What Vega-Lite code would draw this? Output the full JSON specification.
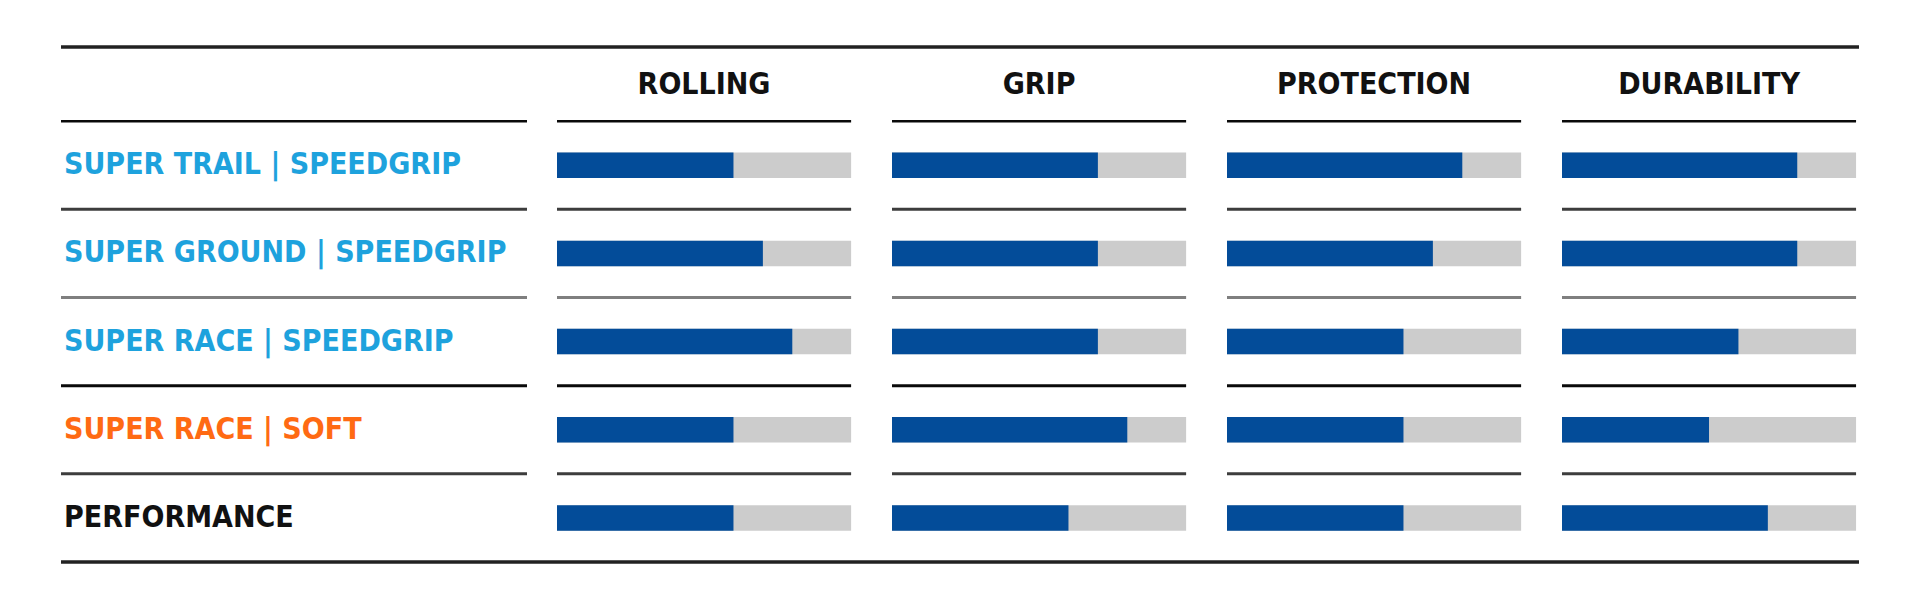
{
  "$schema": "https://vega.github.io/schema/vega-lite/v6.json",
  "padding": {"left": 59, "top": 33, "right": 0, "bottom": 0},
  "background": "white",
  "spacing": 0,
  "bounds": "flush",
  "config": {"view": {"stroke": null}, "concat": {"spacing": 0}},
  "datasets": {
    "products": [
      {"product": "SUPER TRAIL | SPEEDGRIP"},
      {"product": "SUPER GROUND | SPEEDGRIP"},
      {"product": "SUPER RACE | SPEEDGRIP"},
      {"product": "SUPER RACE | SOFT"},
      {"product": "PERFORMANCE"}
    ],
    "scores": [
      {"product": "SUPER TRAIL | SPEEDGRIP", "metric": "ROLLING", "value": 6},
      {"product": "SUPER TRAIL | SPEEDGRIP", "metric": "GRIP", "value": 7},
      {"product": "SUPER TRAIL | SPEEDGRIP", "metric": "PROTECTION", "value": 8},
      {"product": "SUPER TRAIL | SPEEDGRIP", "metric": "DURABILITY", "value": 8},
      {"product": "SUPER GROUND | SPEEDGRIP", "metric": "ROLLING", "value": 7},
      {"product": "SUPER GROUND | SPEEDGRIP", "metric": "GRIP", "value": 7},
      {"product": "SUPER GROUND | SPEEDGRIP", "metric": "PROTECTION", "value": 7},
      {"product": "SUPER GROUND | SPEEDGRIP", "metric": "DURABILITY", "value": 8},
      {"product": "SUPER RACE | SPEEDGRIP", "metric": "ROLLING", "value": 8},
      {"product": "SUPER RACE | SPEEDGRIP", "metric": "GRIP", "value": 7},
      {"product": "SUPER RACE | SPEEDGRIP", "metric": "PROTECTION", "value": 6},
      {"product": "SUPER RACE | SPEEDGRIP", "metric": "DURABILITY", "value": 6},
      {"product": "SUPER RACE | SOFT", "metric": "ROLLING", "value": 6},
      {"product": "SUPER RACE | SOFT", "metric": "GRIP", "value": 8},
      {"product": "SUPER RACE | SOFT", "metric": "PROTECTION", "value": 6},
      {"product": "SUPER RACE | SOFT", "metric": "DURABILITY", "value": 5},
      {"product": "PERFORMANCE", "metric": "ROLLING", "value": 6},
      {"product": "PERFORMANCE", "metric": "GRIP", "value": 6},
      {"product": "PERFORMANCE", "metric": "PROTECTION", "value": 6},
      {"product": "PERFORMANCE", "metric": "DURABILITY", "value": 7}
    ],
    "one": [{"k": 1}]
  },
  "hconcat": [
    {
      "width": 496,
      "height": 529,
      "data": {"name": "products"},
      "layer": [
        {
          "mark": {"type": "text", "align": "left", "baseline": "middle", "dx": 3, "font": "DejaVu Sans Condensed, sans-serif", "fontWeight": "bold", "fontSize": 30},
          "encoding": {
            "y": {"field": "product", "type": "nominal", "axis": null, "scale": {"domain": ["HEADER", "SUPER TRAIL | SPEEDGRIP", "SUPER GROUND | SPEEDGRIP", "SUPER RACE | SPEEDGRIP", "SUPER RACE | SOFT", "PERFORMANCE"], "paddingInner": 0, "paddingOuter": 0}},
            "x": {"datum": 0, "type": "quantitative", "axis": null, "scale": {"domain": [0, 496], "nice": false, "zero": true}},
            "text": {"field": "product"},
            "fill": {"field": "product", "type": "nominal", "legend": null, "scale": {"domain": ["SUPER TRAIL | SPEEDGRIP", "SUPER GROUND | SPEEDGRIP", "SUPER RACE | SPEEDGRIP", "SUPER RACE | SOFT", "PERFORMANCE"], "range": ["#1ea2dd", "#1ea2dd", "#1ea2dd", "#ff6a13", "#111111"]}}
          }
        },
        {
          "transform": [{"filter": "datum.product !== 'PERFORMANCE'"}],
          "mark": {"type": "rule", "strokeWidth": 3},
          "encoding": {
            "y": {"field": "product", "type": "nominal", "bandPosition": 1},
            "x": {"datum": 0, "type": "quantitative"},
            "x2": {"datum": 466},
            "stroke": {"field": "product", "type": "nominal", "legend": null, "scale": {"domain": ["SUPER TRAIL | SPEEDGRIP", "SUPER GROUND | SPEEDGRIP", "SUPER RACE | SPEEDGRIP", "SUPER RACE | SOFT"], "range": ["#3d3d3d", "#7f7f7f", "#0a0a0a", "#3d3d3d"]}}
          }
        },
        {
          "data": {"name": "one"},
          "mark": {"type": "rule", "strokeWidth": 2.5, "color": "#0a0a0a"},
          "encoding": {
            "y": {"datum": "HEADER", "bandPosition": 1},
            "x": {"datum": 0, "type": "quantitative"},
            "x2": {"datum": 466}
          }
        },
        {
          "data": {"name": "one"},
          "mark": {"type": "rule", "strokeWidth": 3.5, "color": "#222222"},
          "encoding": {"y": {"datum": "HEADER", "bandPosition": 0.16}}
        },
        {
          "data": {"name": "one"},
          "mark": {"type": "rule", "strokeWidth": 3.5, "color": "#222222"},
          "encoding": {"y": {"datum": "PERFORMANCE", "bandPosition": 1}}
        }
      ]
    },
    {
      "width": 335,
      "height": 529,
      "data": {"name": "scores"},
      "transform": [{"filter": "datum.metric === 'ROLLING'"}],
      "layer": [
        {
          "mark": {"type": "bar", "color": "#cccccc", "height": {"band": 0.29}},
          "encoding": {
            "y": {"field": "product", "type": "nominal", "axis": null, "scale": {"domain": ["HEADER", "SUPER TRAIL | SPEEDGRIP", "SUPER GROUND | SPEEDGRIP", "SUPER RACE | SPEEDGRIP", "SUPER RACE | SOFT", "PERFORMANCE"], "paddingInner": 0, "paddingOuter": 0}},
            "x": {"datum": 10, "type": "quantitative", "axis": null, "scale": {"domain": [0, 11.39], "nice": false, "zero": true}}
          }
        },
        {
          "mark": {"type": "bar", "color": "#034c99", "height": {"band": 0.29}},
          "encoding": {
            "y": {"field": "product", "type": "nominal"},
            "x": {"field": "value", "type": "quantitative"}
          }
        },
        {
          "transform": [{"filter": "datum.product !== 'PERFORMANCE'"}],
          "mark": {"type": "rule", "strokeWidth": 3},
          "encoding": {
            "y": {"field": "product", "type": "nominal", "bandPosition": 1},
            "x": {"datum": 0, "type": "quantitative"},
            "x2": {"datum": 10},
            "stroke": {"field": "product", "type": "nominal", "legend": null, "scale": {"domain": ["SUPER TRAIL | SPEEDGRIP", "SUPER GROUND | SPEEDGRIP", "SUPER RACE | SPEEDGRIP", "SUPER RACE | SOFT"], "range": ["#3d3d3d", "#7f7f7f", "#0a0a0a", "#3d3d3d"]}}
          }
        },
        {
          "data": {"name": "one"},
          "mark": {"type": "rule", "strokeWidth": 2.5, "color": "#0a0a0a"},
          "encoding": {"y": {"datum": "HEADER", "bandPosition": 1}, "x": {"datum": 0, "type": "quantitative"}, "x2": {"datum": 10}}
        },
        {
          "data": {"name": "one"},
          "mark": {"type": "text", "text": "ROLLING", "align": "center", "baseline": "middle", "font": "DejaVu Sans Condensed, sans-serif", "fontWeight": "bold", "fontSize": 30, "color": "#111111"},
          "encoding": {"y": {"datum": "HEADER", "bandPosition": 0.59}, "x": {"datum": 5, "type": "quantitative"}}
        },
        {
          "data": {"name": "one"},
          "mark": {"type": "rule", "strokeWidth": 3.5, "color": "#222222"},
          "encoding": {"y": {"datum": "HEADER", "bandPosition": 0.16}}
        },
        {
          "data": {"name": "one"},
          "mark": {"type": "rule", "strokeWidth": 3.5, "color": "#222222"},
          "encoding": {"y": {"datum": "PERFORMANCE", "bandPosition": 1}}
        }
      ]
    },
    {
      "width": 335,
      "height": 529,
      "data": {"name": "scores"},
      "transform": [{"filter": "datum.metric === 'GRIP'"}],
      "layer": [
        {
          "mark": {"type": "bar", "color": "#cccccc", "height": {"band": 0.29}},
          "encoding": {
            "y": {"field": "product", "type": "nominal", "axis": null, "scale": {"domain": ["HEADER", "SUPER TRAIL | SPEEDGRIP", "SUPER GROUND | SPEEDGRIP", "SUPER RACE | SPEEDGRIP", "SUPER RACE | SOFT", "PERFORMANCE"], "paddingInner": 0, "paddingOuter": 0}},
            "x": {"datum": 10, "type": "quantitative", "axis": null, "scale": {"domain": [0, 11.39], "nice": false, "zero": true}}
          }
        },
        {
          "mark": {"type": "bar", "color": "#034c99", "height": {"band": 0.29}},
          "encoding": {
            "y": {"field": "product", "type": "nominal"},
            "x": {"field": "value", "type": "quantitative"}
          }
        },
        {
          "transform": [{"filter": "datum.product !== 'PERFORMANCE'"}],
          "mark": {"type": "rule", "strokeWidth": 3},
          "encoding": {
            "y": {"field": "product", "type": "nominal", "bandPosition": 1},
            "x": {"datum": 0, "type": "quantitative"},
            "x2": {"datum": 10},
            "stroke": {"field": "product", "type": "nominal", "legend": null, "scale": {"domain": ["SUPER TRAIL | SPEEDGRIP", "SUPER GROUND | SPEEDGRIP", "SUPER RACE | SPEEDGRIP", "SUPER RACE | SOFT"], "range": ["#3d3d3d", "#7f7f7f", "#0a0a0a", "#3d3d3d"]}}
          }
        },
        {
          "data": {"name": "one"},
          "mark": {"type": "rule", "strokeWidth": 2.5, "color": "#0a0a0a"},
          "encoding": {"y": {"datum": "HEADER", "bandPosition": 1}, "x": {"datum": 0, "type": "quantitative"}, "x2": {"datum": 10}}
        },
        {
          "data": {"name": "one"},
          "mark": {"type": "text", "text": "GRIP", "align": "center", "baseline": "middle", "font": "DejaVu Sans Condensed, sans-serif", "fontWeight": "bold", "fontSize": 30, "color": "#111111"},
          "encoding": {"y": {"datum": "HEADER", "bandPosition": 0.59}, "x": {"datum": 5, "type": "quantitative"}}
        },
        {
          "data": {"name": "one"},
          "mark": {"type": "rule", "strokeWidth": 3.5, "color": "#222222"},
          "encoding": {"y": {"datum": "HEADER", "bandPosition": 0.16}}
        },
        {
          "data": {"name": "one"},
          "mark": {"type": "rule", "strokeWidth": 3.5, "color": "#222222"},
          "encoding": {"y": {"datum": "PERFORMANCE", "bandPosition": 1}}
        }
      ]
    },
    {
      "width": 335,
      "height": 529,
      "data": {"name": "scores"},
      "transform": [{"filter": "datum.metric === 'PROTECTION'"}],
      "layer": [
        {
          "mark": {"type": "bar", "color": "#cccccc", "height": {"band": 0.29}},
          "encoding": {
            "y": {"field": "product", "type": "nominal", "axis": null, "scale": {"domain": ["HEADER", "SUPER TRAIL | SPEEDGRIP", "SUPER GROUND | SPEEDGRIP", "SUPER RACE | SPEEDGRIP", "SUPER RACE | SOFT", "PERFORMANCE"], "paddingInner": 0, "paddingOuter": 0}},
            "x": {"datum": 10, "type": "quantitative", "axis": null, "scale": {"domain": [0, 11.39], "nice": false, "zero": true}}
          }
        },
        {
          "mark": {"type": "bar", "color": "#034c99", "height": {"band": 0.29}},
          "encoding": {
            "y": {"field": "product", "type": "nominal"},
            "x": {"field": "value", "type": "quantitative"}
          }
        },
        {
          "transform": [{"filter": "datum.product !== 'PERFORMANCE'"}],
          "mark": {"type": "rule", "strokeWidth": 3},
          "encoding": {
            "y": {"field": "product", "type": "nominal", "bandPosition": 1},
            "x": {"datum": 0, "type": "quantitative"},
            "x2": {"datum": 10},
            "stroke": {"field": "product", "type": "nominal", "legend": null, "scale": {"domain": ["SUPER TRAIL | SPEEDGRIP", "SUPER GROUND | SPEEDGRIP", "SUPER RACE | SPEEDGRIP", "SUPER RACE | SOFT"], "range": ["#3d3d3d", "#7f7f7f", "#0a0a0a", "#3d3d3d"]}}
          }
        },
        {
          "data": {"name": "one"},
          "mark": {"type": "rule", "strokeWidth": 2.5, "color": "#0a0a0a"},
          "encoding": {"y": {"datum": "HEADER", "bandPosition": 1}, "x": {"datum": 0, "type": "quantitative"}, "x2": {"datum": 10}}
        },
        {
          "data": {"name": "one"},
          "mark": {"type": "text", "text": "PROTECTION", "align": "center", "baseline": "middle", "font": "DejaVu Sans Condensed, sans-serif", "fontWeight": "bold", "fontSize": 30, "color": "#111111"},
          "encoding": {"y": {"datum": "HEADER", "bandPosition": 0.59}, "x": {"datum": 5, "type": "quantitative"}}
        },
        {
          "data": {"name": "one"},
          "mark": {"type": "rule", "strokeWidth": 3.5, "color": "#222222"},
          "encoding": {"y": {"datum": "HEADER", "bandPosition": 0.16}}
        },
        {
          "data": {"name": "one"},
          "mark": {"type": "rule", "strokeWidth": 3.5, "color": "#222222"},
          "encoding": {"y": {"datum": "PERFORMANCE", "bandPosition": 1}}
        }
      ]
    },
    {
      "width": 297,
      "height": 529,
      "data": {"name": "scores"},
      "transform": [{"filter": "datum.metric === 'DURABILITY'"}],
      "layer": [
        {
          "mark": {"type": "bar", "color": "#cccccc", "height": {"band": 0.29}},
          "encoding": {
            "y": {"field": "product", "type": "nominal", "axis": null, "scale": {"domain": ["HEADER", "SUPER TRAIL | SPEEDGRIP", "SUPER GROUND | SPEEDGRIP", "SUPER RACE | SPEEDGRIP", "SUPER RACE | SOFT", "PERFORMANCE"], "paddingInner": 0, "paddingOuter": 0}},
            "x": {"datum": 10, "type": "quantitative", "axis": null, "scale": {"domain": [0, 10.1], "nice": false, "zero": true}}
          }
        },
        {
          "mark": {"type": "bar", "color": "#034c99", "height": {"band": 0.29}},
          "encoding": {
            "y": {"field": "product", "type": "nominal"},
            "x": {"field": "value", "type": "quantitative"}
          }
        },
        {
          "transform": [{"filter": "datum.product !== 'PERFORMANCE'"}],
          "mark": {"type": "rule", "strokeWidth": 3},
          "encoding": {
            "y": {"field": "product", "type": "nominal", "bandPosition": 1},
            "x": {"datum": 0, "type": "quantitative"},
            "x2": {"datum": 10},
            "stroke": {"field": "product", "type": "nominal", "legend": null, "scale": {"domain": ["SUPER TRAIL | SPEEDGRIP", "SUPER GROUND | SPEEDGRIP", "SUPER RACE | SPEEDGRIP", "SUPER RACE | SOFT"], "range": ["#3d3d3d", "#7f7f7f", "#0a0a0a", "#3d3d3d"]}}
          }
        },
        {
          "data": {"name": "one"},
          "mark": {"type": "rule", "strokeWidth": 2.5, "color": "#0a0a0a"},
          "encoding": {"y": {"datum": "HEADER", "bandPosition": 1}, "x": {"datum": 0, "type": "quantitative"}, "x2": {"datum": 10}}
        },
        {
          "data": {"name": "one"},
          "mark": {"type": "text", "text": "DURABILITY", "align": "center", "baseline": "middle", "font": "DejaVu Sans Condensed, sans-serif", "fontWeight": "bold", "fontSize": 30, "color": "#111111"},
          "encoding": {"y": {"datum": "HEADER", "bandPosition": 0.59}, "x": {"datum": 5, "type": "quantitative"}}
        },
        {
          "data": {"name": "one"},
          "mark": {"type": "rule", "strokeWidth": 3.5, "color": "#222222"},
          "encoding": {"y": {"datum": "HEADER", "bandPosition": 0.16}}
        },
        {
          "data": {"name": "one"},
          "mark": {"type": "rule", "strokeWidth": 3.5, "color": "#222222"},
          "encoding": {"y": {"datum": "PERFORMANCE", "bandPosition": 1}}
        }
      ]
    }
  ]
}
